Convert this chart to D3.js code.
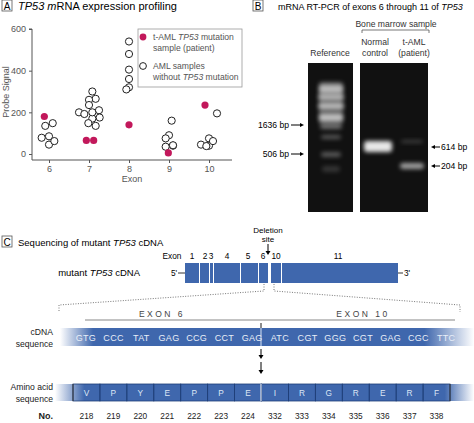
<!DOCTYPE html><html><head><meta charset="utf-8"><script src="https://cdn.jsdelivr.net/npm/d3@7"></script>
<style>body{margin:0;background:#fff}svg{font-family:"Liberation Sans",Arial,sans-serif}</style></head><body><svg id="c" width="474" height="423"></svg>
<script>
// Panel A data
const exons=[6,7,8,9,10];
const yTicks=[0,200,400,600];
const controlExon=[6,6,6,6,6,6, 7,7,7,7,7,7,7,7,7,7,7,7, 8,8,8,8,8,8, 9,9,9,9,9,9, 10,10,10,10,10,10];
const controlSignal=[135,148,78,85,45,62, 300,265,260,235,200,192,210,175,170,148,135,200, 540,480,405,360,320,310, 160,90,75,40,35,42, 195,75,40,45,38,62];
const controlJitter=[-0.28,0.28,-0.55,0,0,0.4, 0.25,0.5,0,0,-0.75,-0.35,0.75,0.8,0.25,-0.05,0.5,0.25, 0,0,0,0,0,-0.2,0.2, 0,-0.25,0.3,-0.25,0.3,0.6, 0,0,-0.6,-0.2,0.3,0.6];
const patientExon=[6,7,7,8,9,10];
const patientSignal=[180,65,65,140,5,235];
const patientJitter=[-0.35,-0.2,0.35,0,-0.05,-0.3];
// Panel B
const leftMarkers=["1636 bp","506 bp"];
const rightMarkers=["614 bp","204 bp"];
// Panel C
const exonLabels=["1","2","3","4","5","6","10","11"];
const codons=["GTG","CCC","TAT","GAG","CCG","CCT","GAG","ATC","CGT","GGG","CGT","GAG","CGC","TTC"];
const aminoAcids=["V","P","Y","E","P","P","E","I","R","G","R","E","R","F"];
const residueNo=[218,219,220,221,222,223,224,332,333,334,335,336,337,338];

const svg=d3.select("#c");
const gray="#555",blue="#3f67ad",mag="#c2185b";
function box(x,y,t){svg.append("rect").attr("x",x).attr("y",y).attr("width",10).attr("height",11).attr("fill","#fff").attr("stroke","#555").attr("stroke-width",0.8);
 svg.append("text").attr("x",x+5).attr("y",y+9.5).attr("text-anchor","middle").attr("font-size",10).text(t);}
// Panel A
box(2,0,"A");
const tA=svg.append("text").attr("x",18).attr("y",10).attr("font-size",11);
tA.append("tspan").attr("font-style","italic").text("TP53 m");tA.append("tspan").text("RNA expression profiling");
const x=d3.scaleLinear().domain([6,10]).range([49,209]);
const y=d3.scaleLinear().domain([0,600]).range([154,29]);
const gA=svg.append("g");
const ya=gA.append("g").attr("transform","translate(32,0)").call(d3.axisLeft(y).tickValues(yTicks).tickSize(3));
ya.select(".domain").attr("d","M-3,29H0V160");
ya.selectAll("line,path").attr("stroke",gray);ya.selectAll("text").attr("fill",gray).attr("font-size",9);
const xa=gA.append("g").attr("transform","translate(0,160)").call(d3.axisBottom(x).tickValues(exons).tickFormat(d3.format("d")).tickSize(3));
xa.select(".domain").attr("d","M32,0H232");
xa.selectAll("line,path").attr("stroke",gray);xa.selectAll("text").attr("fill",gray).attr("font-size",9);
svg.append("text").attr("x",132).attr("y",182).attr("text-anchor","middle").attr("font-size",9).attr("fill",gray).text("Exon");
svg.append("text").attr("transform","translate(9,92) rotate(-90)").attr("text-anchor","middle").attr("font-size",9).attr("fill",gray).text("Probe Signal");
const sp=(x(7)-x(6))/3;
controlSignal.forEach((v,i)=>svg.append("circle").attr("cx",x(controlExon[i])+controlJitter[i]*sp).attr("cy",y(v)).attr("r",3.6).attr("fill","#fff").attr("stroke","#222").attr("stroke-width",1));
patientSignal.forEach((v,i)=>svg.append("circle").attr("cx",x(patientExon[i])+patientJitter[i]*sp).attr("cy",y(v)).attr("r",3.6).attr("fill",mag));
svg.append("rect").attr("x",138).attr("y",29).attr("width",104).attr("height",58).attr("fill","#fff").attr("stroke","#999").attr("stroke-width",0.8);
svg.append("circle").attr("cx",143).attr("cy",37).attr("r",3.4).attr("fill",mag);
svg.append("circle").attr("cx",143).attr("cy",66).attr("r",3.4).attr("fill","#fff").attr("stroke","#222");
function lt(yy,parts){const t=svg.append("text").attr("x",153).attr("y",yy).attr("font-size",8.6).attr("fill",gray);parts.forEach(p=>t.append("tspan").attr("font-style",p[1]?"italic":null).text(p[0]));}
lt(40,[["t-AML "],["TP53",1],[" mutation"]]);lt(51,[["sample (patient)"]]);
lt(69,[["AML samples"]]);lt(80,[["without "],["TP53",1],[" mutation"]]);
// Panel B
box(253,0,"B");
const tB=svg.append("text").attr("x",278).attr("y",10).attr("font-size",9);
tB.append("tspan").text("mRNA RT-PCR of exons 6 through 11 of ");tB.append("tspan").attr("font-style","italic").text("TP53");
svg.append("text").attr("x",396).attr("y",27).attr("text-anchor","middle").attr("font-size",8.6).attr("fill","#333").text("Bone marrow sample");
svg.append("path").attr("d","M362,33V30H429V33").attr("fill","none").attr("stroke","#555").attr("stroke-width",0.8);
[["Reference",330,56],["Normal",375,45],["control",375,56],["t-AML",414,45],["(patient)",414,56]].forEach(d=>svg.append("text").attr("x",d[1]).attr("y",d[2]).attr("text-anchor","middle").attr("font-size",8.6).attr("fill","#333").text(d[0]));
const defs=svg.append("defs");
const bl=defs.append("filter").attr("id","bl").attr("x","-50%").attr("y","-100%").attr("width","200%").attr("height","300%");bl.append("feGaussianBlur").attr("stdDeviation",2.2);
svg.append("rect").attr("x",308).attr("y",63).attr("width",45).attr("height",149).attr("fill","#111");
svg.append("rect").attr("x",360).attr("y",63).attr("width",68).attr("height",149).attr("fill","#111");
const bands=[[319,82,24,42,0.35],[319,85,24,8,0.55],[318,94,26,6,0.5],[318,103,26,6,0.55],[319,114,24,7,0.6],[320,124,22,5,0.4],[321,135,20,4,0.3],[321,152,20,5,0.3],[322,166,18,6,0.15],
[364,141,28,11,0.9],[401,140,22,3,0.2],[400,163,24,6,0.6]];
bands.forEach(b=>svg.append("rect").attr("x",b[0]).attr("y",b[1]).attr("width",b[2]).attr("height",b[3]).attr("rx",3).attr("fill","#fff").attr("opacity",b[4]).attr("filter","url(#bl)"));
leftMarkers.forEach((m,i)=>{const yy=[125,154][i];svg.append("text").attr("x",289).attr("y",yy+3).attr("text-anchor","end").attr("font-size",8.6).text(m);
 svg.append("path").attr("d",`M291,${yy}H301`).attr("stroke","#000");svg.append("path").attr("d",`M304,${yy}l-4,-2v4z`).attr("fill","#000");});
rightMarkers.forEach((m,i)=>{const yy=[147,166][i];svg.append("text").attr("x",441).attr("y",yy+3).attr("font-size",8.6).text(m);
 svg.append("path").attr("d",`M434,${yy}H440`).attr("stroke","#000");svg.append("path").attr("d",`M431,${yy}l4,-2v4z`).attr("fill","#000");});
// Panel C
box(2,236,"C");
const tC=svg.append("text").attr("x",18).attr("y",246).attr("font-size",9.5);
tC.append("tspan").text("Sequencing of mutant ");tC.append("tspan").attr("font-style","italic").text("TP53");tC.append("tspan").text(" cDNA");
svg.append("text").attr("x",268).attr("y",233).attr("text-anchor","middle").attr("font-size",8).text("Deletion");
svg.append("text").attr("x",268).attr("y",242).attr("text-anchor","middle").attr("font-size",8).text("site");
svg.append("path").attr("d","M268,244V252").attr("stroke","#000");svg.append("path").attr("d","M268,255l-2.5,-4h5z");
const segs=[[185,199],[200,209],[210,213],[214,240],[241,258],[259,268],[271,281],[282,398]];
svg.append("g").selectAll("rect").data(segs).join("rect").attr("x",d=>d[0]).attr("y",263).attr("width",d=>d[1]-d[0]).attr("height",20).attr("fill",blue);
const labX=[192,205,211,227,248,263,276,338];
exonLabels.forEach((l,i)=>svg.append("text").attr("x",labX[i]).attr("y",259).attr("text-anchor","middle").attr("font-size",8.3).text(l));
svg.append("text").attr("x",172).attr("y",259).attr("text-anchor","middle").attr("font-size",8.3).text("Exon");
svg.append("text").attr("x",171).attr("y",276).attr("font-size",8.3).text("5'");
svg.append("path").attr("d","M178,273H185M398,273H403").attr("stroke","#333");
svg.append("text").attr("x",404).attr("y",276).attr("font-size",8.3).text("3'");
const mt=svg.append("text").attr("x",140).attr("y",276).attr("text-anchor","end").attr("font-size",9.5);
mt.append("tspan").text("mutant ");mt.append("tspan").attr("font-style","italic").text("TP53");mt.append("tspan").text(" cDNA");
svg.append("path").attr("d","M264,284V291L59,305V312M274,284V291L460,305V312").attr("fill","none").attr("stroke","#777").attr("stroke-dasharray","1,1.5");
svg.append("text").attr("x",162).attr("y",317).attr("text-anchor","middle").attr("font-size",8.5).attr("letter-spacing",2.5).attr("fill","#444").text("EXON 6");
svg.append("text").attr("x",363).attr("y",317).attr("text-anchor","middle").attr("font-size",8.5).attr("letter-spacing",2.5).attr("fill","#444").text("EXON 10");
svg.append("path").attr("d","M85,320H455").attr("stroke","#888").attr("stroke-width",1.2);
svg.append("path").attr("d","M261,323V328").attr("stroke","#666").attr("stroke-width",1.5);
const lg=defs.append("linearGradient").attr("id","fade");
[[0,0],[0.08,1],[0.88,1],[1,0]].forEach(s=>lg.append("stop").attr("offset",s[0]).attr("stop-color",blue).attr("stop-opacity",s[1]));
svg.append("rect").attr("x",60).attr("y",328).attr("width",414).attr("height",18).attr("fill","url(#fade)");
const cx=d3.scaleBand().domain(d3.range(codons.length)).range([72,460]);
svg.selectAll(".cod").data(codons).join("text").attr("x",(d,i)=>cx(i)+cx.bandwidth()/2).attr("y",341).attr("text-anchor","middle").attr("font-size",9).attr("fill","#e8eef8").attr("letter-spacing",0.3).text(d=>d);
svg.append("path").attr("d","M261,328V346").attr("stroke","#d8e4f4").attr("stroke-width",1);
[["cDNA",335],["sequence",347]].forEach(d=>svg.append("text").attr("x",53).attr("y",d[1]).attr("text-anchor","end").attr("font-size",8.6).attr("fill","#222").text(d[0]));
svg.append("path").attr("d","M261,349V356M261,362V371").attr("stroke","#000");
svg.append("path").attr("d","M261,359l-2.5,-4h5zM261,374l-2.5,-4h5z");
const lg2=defs.append("linearGradient").attr("id","fade2");
[[0,0],[0.07,1],[0.93,1],[1,0]].forEach(s=>lg2.append("stop").attr("offset",s[0]).attr("stop-color",blue).attr("stop-opacity",s[1]));
svg.append("rect").attr("x",55).attr("y",384).attr("width",419).attr("height",17).attr("fill","url(#fade2)");
const ax=d3.scaleBand().domain(d3.range(aminoAcids.length)).range([73,450]);
svg.selectAll(".aa").data(aminoAcids).join("rect").attr("x",(d,i)=>ax(i)).attr("y",384).attr("width",ax.bandwidth()).attr("height",17).attr("fill","none").attr("stroke","#1f3f78").attr("stroke-width",0.8);
svg.append("path").attr("d","M73,384V401M450,384V401").attr("stroke","#333");
svg.append("path").attr("d","M261,384V401").attr("stroke","#fff").attr("stroke-width",1);
svg.selectAll(".aat").data(aminoAcids).join("text").attr("x",(d,i)=>ax(i)+ax.bandwidth()/2).attr("y",396).attr("text-anchor","middle").attr("font-size",8.3).attr("fill","#dce6f5").text(d=>d);
[["Amino acid",390],["sequence",402]].forEach(d=>svg.append("text").attr("x",53).attr("y",d[1]).attr("text-anchor","end").attr("font-size",8.6).attr("fill","#222").text(d[0]));
svg.append("text").attr("x",53).attr("y",419).attr("text-anchor","end").attr("font-size",9).attr("font-weight","bold").attr("fill","#222").text("No.");
svg.selectAll(".no").data(residueNo).join("text").attr("x",(d,i)=>ax(i)+ax.bandwidth()/2).attr("y",419).attr("text-anchor","middle").attr("font-size",8.3).attr("fill","#222").text(d=>d);
</script></body></html>
